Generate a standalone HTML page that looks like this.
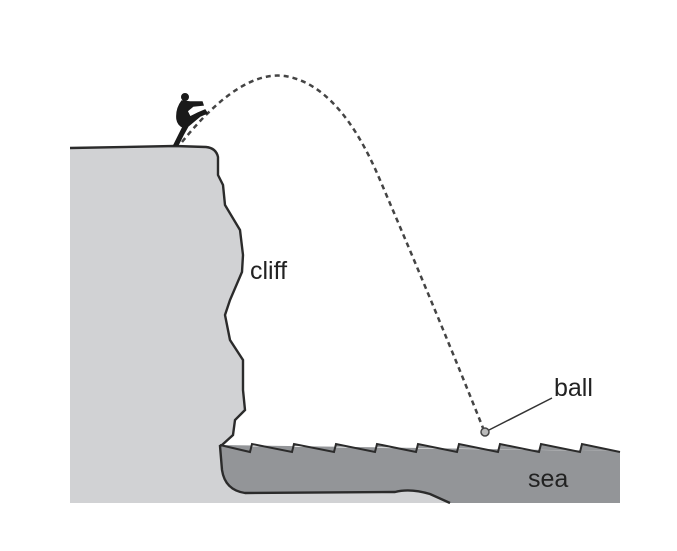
<!DOCTYPE html>
<html><head><style>body{margin:0;background:#fff}svg{display:block}</style></head><body>
<svg width="677" height="551" viewBox="0 0 677 551" xmlns="http://www.w3.org/2000/svg">
<path d="M70,148 L70,503 L450,503 L430,494 Q410,488 395,492 L245,493 Q225,490 222,470 L220,446 L222,445 L233,435 L235,420 L245,410 L243,390 L243,360 L230,340 L225,315 L230,300 L242,272 L243,255 L240,230 L225,205 L223,185 L218,175 L218,157 Q216,148 206,147 L175,146 Z" fill="#d1d2d4"/>
<path d="M220,446 L222,470 Q225,490 245,493 L395,492 Q410,488 430,494 L450,503 L620,503 L620,451 Z" fill="#939598"/>
<path d="M220,445 L250,452 L252,444 L292,452 L294,444 L334,452 L336,444 L375,452 L377,444 L416,452 L418,444 L457,452 L459,444 L498,452 L500,444 L539,452 L541,444 L580,452 L582,444 L620,452 L620,451 Z" fill="#939598"/>
<path d="M220,445 L250,452 L252,444 L292,452 L294,444 L334,452 L336,444 L375,452 L377,444 L416,452 L418,444 L457,452 L459,444 L498,452 L500,444 L539,452 L541,444 L580,452 L582,444 L620,452" fill="none" stroke="#2b2b2b" stroke-width="2"/>
<path d="M450,503 L430,494 Q410,488 395,492 L245,493 Q225,490 222,470 L220,446 L222,445 L233,435 L235,420 L245,410 L243,390 L243,360 L230,340 L225,315 L230,300 L242,272 L243,255 L240,230 L225,205 L223,185 L218,175 L218,157 Q216,148 206,147 L175,146 L70,148" fill="none" stroke="#2b2b2b" stroke-width="2.4"/>
<path d="M182,142 Q240,70 285,76 Q340,85 380,180 Q440,320 483,428" fill="none" stroke="#444" stroke-width="2.5" stroke-dasharray="5,4"/>
<circle cx="485" cy="432" r="4" fill="#bbb" stroke="#444" stroke-width="1.5"/>
<line x1="489" y1="430" x2="552" y2="398" stroke="#333" stroke-width="1.5"/>
<g fill="#1a1a1a" stroke="#1a1a1a">
<circle cx="185" cy="97" r="3.5"/>
<path d="M182,101 Q176,109 177,119 Q178,125 183,127 L179,135 L174,145 L178,145 L183,135 L188,126 L200,116 L207,113 L205,110 L198,113 L190,117 L187,111 L193,106 L203,105 L202,102 L190,102 Z" stroke-width="1.5"/>
</g>
<text x="250" y="279" font-family="Liberation Sans, sans-serif" font-size="25" fill="#222">cliff</text>
<text x="554" y="396" font-family="Liberation Sans, sans-serif" font-size="25" fill="#222">ball</text>
<text x="528" y="487" font-family="Liberation Sans, sans-serif" font-size="25" fill="#222">sea</text>
</svg>
</body></html>
